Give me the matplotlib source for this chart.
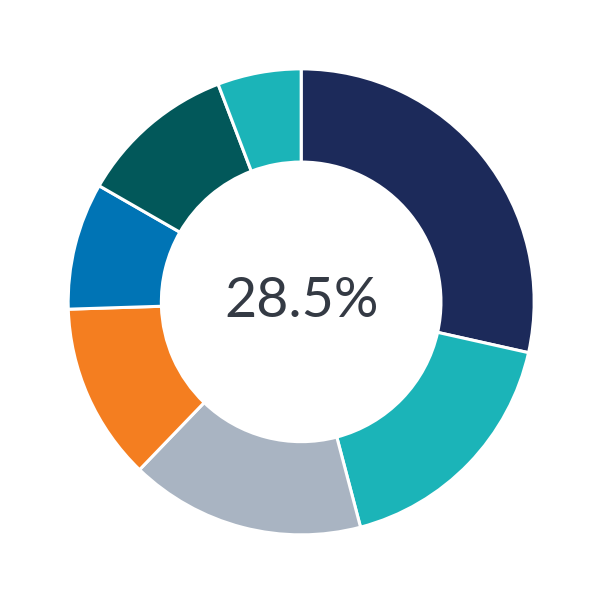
import matplotlib
matplotlib.use("Agg")
import matplotlib.pyplot as plt

# slice shares, clockwise from 12 o'clock
shares = [28.5, 17.4, 16.3, 12.3, 8.8, 10.9, 5.8]
colors = ["#1c2a5a", "#1bb4b8", "#a9b4c2", "#f47e20", "#0074b5", "#02585a", "#1bb4b8"]
center_label = "28.5%"

fig = plt.figure(figsize=(6, 6), dpi=100)
ax = fig.add_axes([0, 0, 1, 1])

ax.pie(shares, colors=colors, startangle=90, counterclock=False,
       radius=1.0,
       wedgeprops=dict(width=0.4, edgecolor="white", linewidth=2.2))

ax.text(0, 0, center_label, ha="center", va="center",
        fontsize=40, color="#343a44", family=["Lato", "DejaVu Sans"])

lim = 300 / 233
ax.set_xlim(-lim - 0.005, lim - 0.005)
ax.set_ylim(-lim + 0.008, lim + 0.008)
ax.set_aspect("equal")
ax.axis("off")

fig.savefig("out.png", dpi=100, facecolor="white")
